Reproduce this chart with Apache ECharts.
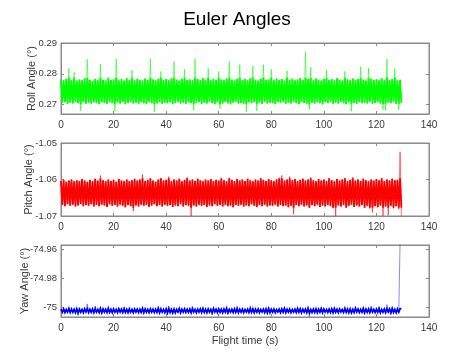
<!DOCTYPE html>
<html><head><meta charset="utf-8">
<script src="https://cdn.jsdelivr.net/npm/echarts@6/dist/echarts.min.js"></script>
<style>html,body{margin:0;padding:0;background:#fff}#c{width:474px;height:355px}</style>
</head><body><div id="c"></div>
<script>
// Sample bins (s): each bin holds one high and one low sample of the noisy signal
const timeBins = [0,1,2,3,4,5,6,7,8,9,10,11,12,13,14,15,16,17,18,19,20,21,22,23,24,25,26,27,28,29,30,31,32,33,34,35,36,37,38,39,40,41,42,43,44,45,46,47,48,49,50,51,52,53,54,55,56,57,58,59,60,61,62,63,64,65,66,67,68,69,70,71,72,73,74,75,76,77,78,79,80,81,82,83,84,85,86,87,88,89,90,91,92,93,94,95,96,97,98,99,100,101,102,103,104,105,106,107,108,109,110,111,112,113,114,115,116,117,118,119,120,121,122,123,124,125,126,127,128,129];
const xTicks = [0,20,40,60,80,100,120,140];

const rollHi = [0.2781,0.2779,0.2784,0.2818,0.2780,0.2805,0.2778,0.2782,0.2779,0.2786,
0.2847,0.2780,0.2777,0.2783,0.2779,0.2832,0.2781,0.2778,0.2787,0.2780,
0.2782,0.2849,0.2779,0.2783,0.2778,0.2786,0.2780,0.2812,0.2779,0.2784,
0.2781,0.2778,0.2785,0.2780,0.2849,0.2782,0.2779,0.2784,0.2808,0.2780,
0.2783,0.2779,0.2786,0.2840,0.2781,0.2778,0.2784,0.2815,0.2780,0.2782,
0.2779,0.2849,0.2783,0.2780,0.2786,0.2781,0.2818,0.2779,0.2784,0.2780,
0.2808,0.2782,0.2779,0.2785,0.2840,0.2781,0.2778,0.2784,0.2830,0.2780,
0.2783,0.2779,0.2786,0.2826,0.2781,0.2778,0.2784,0.2830,0.2780,0.2782,
0.2815,0.2779,0.2785,0.2780,0.2783,0.2778,0.2810,0.2781,0.2784,0.2779,
0.2782,0.2786,0.2780,0.2872,0.2783,0.2822,0.2779,0.2785,0.2781,0.2778,
0.2784,0.2812,0.2780,0.2783,0.2779,0.2786,0.2781,0.2778,0.2808,0.2782,
0.2779,0.2785,0.2780,0.2783,0.2823,0.2781,0.2778,0.2818,0.2784,0.2780,
0.2782,0.2779,0.2786,0.2781,0.2848,0.2780,0.2783,0.2818,0.2779,0.2781];
const rollLo = [0.2706,0.2709,0.2703,0.2707,0.2704,0.2710,0.2705,0.2680,0.2708,0.2703,
0.2707,0.2704,0.2709,0.2705,0.2702,0.2708,0.2706,0.2703,0.2709,0.2705,
0.2678,0.2707,0.2704,0.2709,0.2702,0.2706,0.2710,0.2704,0.2707,0.2703,
0.2708,0.2705,0.2702,0.2709,0.2706,0.2677,0.2704,0.2708,0.2703,0.2707,
0.2705,0.2709,0.2702,0.2706,0.2710,0.2704,0.2707,0.2703,0.2708,0.2705,
0.2682,0.2706,0.2709,0.2703,0.2707,0.2704,0.2710,0.2705,0.2702,0.2708,
0.2688,0.2704,0.2709,0.2705,0.2702,0.2707,0.2710,0.2704,0.2706,0.2703,
0.2677,0.2708,0.2705,0.2709,0.2680,0.2706,0.2703,0.2710,0.2704,0.2707,
0.2705,0.2702,0.2708,0.2706,0.2710,0.2703,0.2707,0.2704,0.2709,0.2705,
0.2702,0.2708,0.2706,0.2703,0.2685,0.2707,0.2704,0.2709,0.2705,0.2702,
0.2708,0.2706,0.2710,0.2703,0.2707,0.2704,0.2709,0.2705,0.2702,0.2708,
0.2679,0.2706,0.2703,0.2709,0.2705,0.2707,0.2704,0.2710,0.2703,0.2706,
0.2708,0.2704,0.2684,0.2681,0.2707,0.2705,0.2709,0.2703,0.2683,0.2706];

const pitchHi = [-1.0604,-1.0601,-1.0606,-1.0603,-1.0600,-1.0605,-1.0602,-1.0604,-1.0599,-1.0603,
-1.0606,-1.0601,-1.0604,-1.0598,-1.0603,-1.0589,-1.0602,-1.0605,-1.0600,-1.0604,
-1.0601,-1.0606,-1.0599,-1.0603,-1.0605,-1.0600,-1.0604,-1.0602,-1.0598,-1.0603,
-1.0600,-1.0586,-1.0604,-1.0601,-1.0597,-1.0603,-1.0606,-1.0600,-1.0596,-1.0603,
-1.0601,-1.0592,-1.0604,-1.0600,-1.0603,-1.0598,-1.0605,-1.0601,-1.0594,-1.0603,
-1.0600,-1.0604,-1.0598,-1.0602,-1.0605,-1.0600,-1.0603,-1.0599,-1.0604,-1.0601,
-1.0603,-1.0597,-1.0602,-1.0605,-1.0596,-1.0601,-1.0604,-1.0599,-1.0603,-1.0600,
-1.0604,-1.0598,-1.0602,-1.0605,-1.0600,-1.0603,-1.0597,-1.0601,-1.0604,-1.0599,
-1.0602,-1.0605,-1.0600,-1.0597,-1.0589,-1.0603,-1.0600,-1.0592,-1.0602,-1.0599,
-1.0604,-1.0601,-1.0598,-1.0603,-1.0600,-1.0594,-1.0602,-1.0605,-1.0599,-1.0603,
-1.0600,-1.0604,-1.0597,-1.0602,-1.0605,-1.0599,-1.0603,-1.0600,-1.0597,-1.0604,
-1.0601,-1.0594,-1.0603,-1.0600,-1.0604,-1.0598,-1.0602,-1.0605,-1.0600,-1.0603,
-1.0599,-1.0602,-1.0596,-1.0604,-1.0600,-1.0603,-1.0598,-1.0602,-1.0601,-1.0524];
const pitchLo = [-1.0670,-1.0673,-1.0668,-1.0672,-1.0669,-1.0674,-1.0671,-1.0667,-1.0673,-1.0670,
-1.0672,-1.0668,-1.0674,-1.0670,-1.0673,-1.0669,-1.0671,-1.0675,-1.0668,-1.0672,
-1.0670,-1.0674,-1.0669,-1.0672,-1.0676,-1.0670,-1.0673,-1.0687,-1.0671,-1.0674,
-1.0669,-1.0672,-1.0670,-1.0675,-1.0671,-1.0668,-1.0673,-1.0670,-1.0674,-1.0669,
-1.0672,-1.0670,-1.0675,-1.0671,-1.0673,-1.0668,-1.0674,-1.0670,-1.0672,-1.0700,
-1.0671,-1.0674,-1.0669,-1.0672,-1.0670,-1.0675,-1.0671,-1.0673,-1.0668,-1.0672,
-1.0670,-1.0674,-1.0669,-1.0673,-1.0671,-1.0676,-1.0670,-1.0672,-1.0669,-1.0674,
-1.0671,-1.0673,-1.0668,-1.0672,-1.0675,-1.0670,-1.0673,-1.0669,-1.0674,-1.0671,
-1.0672,-1.0669,-1.0674,-1.0670,-1.0673,-1.0671,-1.0676,-1.0672,-1.0695,-1.0670,
-1.0673,-1.0669,-1.0674,-1.0671,-1.0678,-1.0670,-1.0673,-1.0669,-1.0675,-1.0671,
-1.0674,-1.0670,-1.0673,-1.0679,-1.0700,-1.0671,-1.0674,-1.0670,-1.0677,-1.0672,
-1.0669,-1.0675,-1.0671,-1.0674,-1.0670,-1.0678,-1.0672,-1.0680,-1.0690,-1.0673,
-1.0676,-1.0671,-1.0700,-1.0674,-1.0698,-1.0672,-1.0679,-1.0673,-1.0682,-1.0700];

const yawHi = [-75.0011,-75.0009,-75.0013,-74.9995,-75.0010,-75.0012,-75.0008,-75.0011,-75.0013,-75.0009,
-74.9975,-75.0012,-75.0010,-74.9990,-75.0013,-74.9992,-75.0009,-75.0011,-74.9988,-75.0012,
-75.0010,-75.0013,-75.0008,-75.0011,-74.9995,-75.0012,-75.0009,-75.0013,-75.0010,-75.0011,
-75.0012,-74.9993,-75.0010,-75.0013,-75.0009,-75.0011,-75.0012,-74.9988,-75.0010,-75.0013,
-75.0009,-74.9990,-75.0012,-75.0010,-75.0013,-74.9995,-75.0011,-75.0009,-75.0012,-75.0010,
-74.9992,-75.0013,-75.0011,-75.0009,-74.9995,-75.0012,-75.0010,-75.0013,-74.9994,-75.0011,
-75.0009,-75.0012,-75.0010,-74.9988,-75.0013,-75.0011,-75.0009,-74.9993,-75.0012,-75.0010,
-75.0013,-75.0011,-74.9990,-75.0009,-75.0012,-75.0010,-75.0013,-75.0011,-75.0009,-74.9995,
-75.0012,-75.0010,-75.0013,-75.0011,-75.0009,-74.9994,-75.0012,-75.0010,-75.0013,-75.0011,
-74.9995,-75.0009,-75.0012,-75.0010,-74.9990,-75.0013,-75.0011,-75.0009,-75.0012,-74.9995,
-75.0010,-75.0013,-75.0011,-75.0009,-74.9993,-75.0012,-75.0010,-75.0013,-74.9992,-75.0011,
-75.0009,-75.0012,-74.9990,-75.0010,-75.0013,-74.9994,-75.0011,-75.0009,-74.9991,-75.0012,
-75.0010,-74.9993,-75.0013,-75.0011,-74.9980,-75.0009,-74.9993,-75.0012,-75.0010,-74.9550];
const yawLo = [-75.0032,-75.0035,-75.0031,-75.0034,-75.0033,-75.0036,-75.0055,-75.0032,-75.0035,-75.0031,
-75.0034,-75.0033,-75.0036,-75.0032,-75.0035,-75.0045,-75.0031,-75.0034,-75.0033,-75.0036,
-75.0032,-75.0035,-75.0031,-75.0034,-75.0033,-75.0036,-75.0032,-75.0035,-75.0031,-75.0034,
-75.0033,-75.0036,-75.0032,-75.0035,-75.0031,-75.0034,-75.0033,-75.0036,-75.0032,-75.0035,
-75.0050,-75.0034,-75.0048,-75.0036,-75.0032,-75.0035,-75.0031,-75.0034,-75.0033,-75.0036,
-75.0032,-75.0035,-75.0031,-75.0034,-75.0033,-75.0036,-75.0032,-75.0052,-75.0031,-75.0034,
-75.0033,-75.0036,-75.0032,-75.0045,-75.0031,-75.0034,-75.0033,-75.0036,-75.0032,-75.0035,
-75.0031,-75.0034,-75.0033,-75.0036,-75.0032,-75.0035,-75.0031,-75.0034,-75.0046,-75.0036,
-75.0032,-75.0035,-75.0031,-75.0034,-75.0033,-75.0036,-75.0032,-75.0035,-75.0031,-75.0034,
-75.0033,-75.0036,-75.0032,-75.0035,-75.0063,-75.0034,-75.0033,-75.0036,-75.0032,-75.0035,
-75.0031,-75.0034,-75.0033,-75.0036,-75.0032,-75.0035,-75.0031,-75.0034,-75.0033,-75.0036,
-75.0045,-75.0035,-75.0031,-75.0034,-75.0033,-75.0036,-75.0032,-75.0035,-75.0031,-75.0034,
-75.0033,-75.0036,-75.0032,-75.0035,-75.0031,-75.0048,-75.0033,-75.0036,-75.0032,-74.9550];

const rollTicks = [0.27, 0.28, 0.29];
const pitchTicks = [-1.07, -1.06, -1.05];
const yawTicks = [-75, -74.98, -74.96];

// Interleave the high and low sample of every bin into one trace
// (optionally limited to the dense core of the band).
function zig(hi, lo, capHi, capLo) {
  const out = [];
  const lim = v => capHi == null ? v : Math.max(capLo, Math.min(capHi, v));
  for (let i = 0; i < timeBins.length; i++) {
    out.push([timeBins[i], lim(hi[i])]);
    out.push([timeBins[i] + 0.5, lim(lo[i])]);
  }
  return out;
}

const AX = '#8a8a8a', TXT = '#3a3a3a';
const FONT = '"Liberation Sans", Arial, sans-serif';
const fmt = v => String(parseFloat((+v).toFixed(4)));

const panels = [
  {name: 'Roll Angle (°)', min: 0.267, max: 0.29, ticks: rollTicks, hi: rollHi, lo: rollLo, cap: [0.2787, 0.2702],
   color: '#00ff00', light: 'rgba(0,255,0,0.55)', top: 43, height: 71, gap: 24, lw: 1.8},
  {name: 'Pitch Angle (°)', min: -1.07, max: -1.05, ticks: pitchTicks, hi: pitchHi, lo: pitchLo, cap: [-1.0597, -1.0677],
   color: '#ff0000', light: 'rgba(255,0,0,0.55)', top: 143, height: 73, gap: 27, lw: 1.8},
  {name: 'Yaw Angle (°)', min: -75.0065, max: -74.957, ticks: yawTicks, hi: yawHi, lo: yawLo, cap: [-75.0008, -75.0036],
   color: '#0000ff', light: 'rgba(60,60,255,0.6)', top: 245, height: 72, gap: 31, lw: 1.7}
];

const grid = [], xAxis = [], yAxis = [], series = [];
panels.forEach((p, i) => {
  grid.push({left: 61, width: 368, top: p.top, height: p.height, show: true, borderColor: AX, borderWidth: 1, backgroundColor: '#fff'});
  const xBase = {gridIndex: i, type: 'value', min: 0, max: 140, interval: 20,
    axisLine: {show: true, onZero: false, lineStyle: {color: AX, width: 1}},
    axisTick: {show: true, inside: true, length: 3, lineStyle: {color: AX}},
    splitLine: {show: false}};
  xAxis.push(Object.assign({}, xBase, {position: 'bottom',
    axisLabel: {show: true, fontSize: 10, color: TXT, fontFamily: FONT, margin: 6, customValues: xTicks},
    name: i === 2 ? 'Flight time (s)' : '', nameLocation: 'middle', nameGap: 18, nameMoveOverlap: false,
    nameTextStyle: {fontSize: 11, color: TXT, fontFamily: FONT}}));
  xAxis.push(Object.assign({}, xBase, {position: 'top', axisLabel: {show: false}}));
  const yBase = {gridIndex: i, type: 'value', min: p.min, max: p.max,
    axisLine: {show: true, onZero: false, lineStyle: {color: AX, width: 1}},
    axisTick: {show: true, inside: true, length: 3, lineStyle: {color: AX}, customValues: p.ticks},
    splitLine: {show: false}};
  yAxis.push(Object.assign({}, yBase, {position: 'left',
    axisLabel: {show: true, fontSize: 9.5, color: TXT, fontFamily: FONT, margin: 4, customValues: p.ticks, formatter: fmt},
    name: p.name, nameLocation: 'middle', nameGap: p.gap, nameRotate: 90, nameMoveOverlap: false,
    nameTextStyle: {fontSize: 11, color: TXT, fontFamily: FONT}}));
  yAxis.push(Object.assign({}, yBase, {position: 'right', axisLabel: {show: false}}));
  // thin full trace (spikes), then the dense core band on top
  series.push({type: 'line', xAxisIndex: i * 2, yAxisIndex: i * 2, data: zig(p.hi, p.lo), showSymbol: false, symbol: 'none',
    clip: true, sampling: null, silent: true, lineStyle: {color: p.light, width: 1}, itemStyle: {color: p.color}});
  series.push({type: 'line', xAxisIndex: i * 2, yAxisIndex: i * 2, data: zig(p.hi, p.lo, p.cap[0], p.cap[1]), showSymbol: false, symbol: 'none',
    clip: true, sampling: null, silent: true, lineStyle: {color: p.color, width: p.lw, join: 'miter'}, itemStyle: {color: p.color}});
});

const chart = echarts.init(document.getElementById('c'), null, {renderer: 'canvas'});
chart.setOption({
  animation: false,
  backgroundColor: '#fff',
  title: {text: 'Euler Angles', left: 'center', top: 5, textStyle: {fontSize: 19, fontWeight: 'normal', color: '#000', fontFamily: FONT}},
  grid, xAxis, yAxis, series
});
</script></body></html>
